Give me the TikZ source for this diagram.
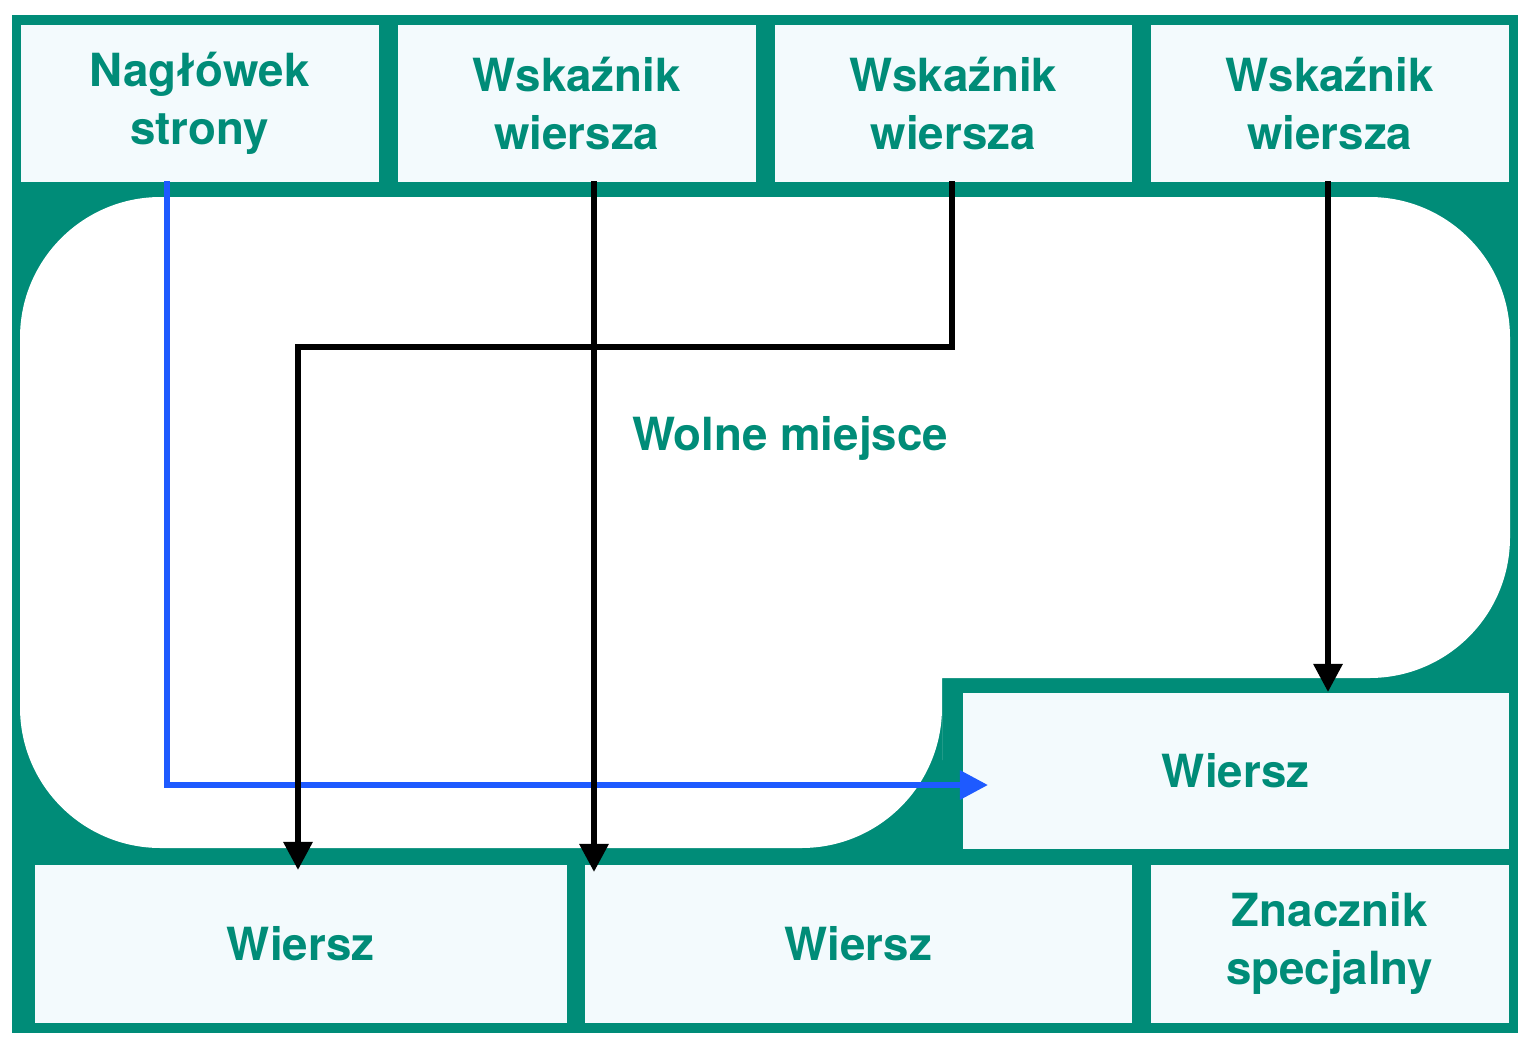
\documentclass[tikz,border=0pt]{standalone}
\usepackage{fontspec}
\setmainfont{TeX Gyre Heros}
\usetikzlibrary{arrows.meta}
\definecolor{zielony}{RGB}{0,140,120}
\definecolor{jasny}{RGB}{243,250,253}
\definecolor{niebieski}{RGB}{30,90,255}
\tikzset{every picture/.style={line width=0.75pt}}

\begin{document}
\begin{tikzpicture}[x=0.02cm,y=-0.02cm,
    cell/.style={fill=jasny,draw=none,anchor=north west,inner sep=0pt,align=center,
        text=zielony,font=\fontsize{26}{33}\selectfont\bfseries},
    ptr/.style={line width=3.4pt,-{Triangle[length=16pt,width=16pt]}}]
        \useasboundingbox (0,0) rectangle (1536,1049);
        \fill[zielony] (12,15) rectangle (1518,1033);
        \fill[white,rounded corners=80] (20,520) -- (20,197) -- (1510,197) -- (1510,678)
            [sharp corners] -- (942,678) -- (942,760) [rounded corners=80] -- (942,848) -- (20,848) -- cycle;
        \node[cell,minimum width=358*0.02cm,minimum height=157*0.02cm] (n) at (20,24) {Nagłówek\\strony};
        \node[cell,minimum width=358*0.02cm,minimum height=157*0.02cm] (w1) at (397,24) {Wskaźnik\\wiersza};
        \node[cell,minimum width=357*0.02cm,minimum height=157*0.02cm] (w2) at (774,24) {Wskaźnik\\wiersza};
        \node[cell,minimum width=358*0.02cm,minimum height=157*0.02cm] (w3) at (1150,24) {Wskaźnik\\wiersza};
        \node[cell,minimum width=546*0.02cm,minimum height=156*0.02cm] (r1) at (962,692) {Wiersz};
        \node[cell,minimum width=532*0.02cm,minimum height=158*0.02cm] (r2) at (34,864) {Wiersz};
        \node[cell,minimum width=547*0.02cm,minimum height=158*0.02cm] (r3) at (584,864) {Wiersz};
        \node[cell,minimum width=358*0.02cm,minimum height=158*0.02cm] (z) at (1150,864) {Znacznik\\specjalny};
        \node[text=zielony,font=\fontsize{26}{33}\selectfont\bfseries] (wolne) at (790,438) {Wolne miejsce};

        \coordinate (n0) at (167,181);
        \coordinate (a0) at (594,181);
        \coordinate (b0) at (952,181);
        \coordinate (c0) at (1328,181);
        \coordinate (a1) at (594,872);
        \coordinate (b1) at (298,347);
        \coordinate (b2) at (298,870);
        \coordinate (n1) at (167,785);
        \coordinate (n2) at (988,785);

        \draw[ptr,color=niebieski] (n0) -- (n1) -- (n2);
        \draw[ptr] (a0) -- (a1);
        \draw[ptr] (b0) |- (b1) -- (b2);
        \draw[ptr] (c0) -- (r1.north -| c0);
\end{tikzpicture}
\end{document}
